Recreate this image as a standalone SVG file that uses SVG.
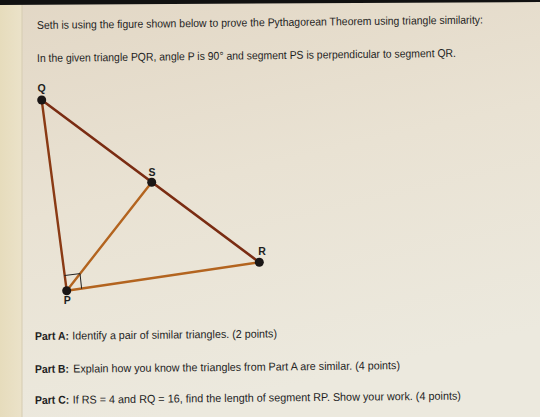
<svg xmlns="http://www.w3.org/2000/svg" width="540" height="417" viewBox="0 0 540 417">
<defs>
<linearGradient id="bg" x1="0" y1="0" x2="0.3" y2="1">
<stop offset="0" stop-color="#e2d7c5"/>
<stop offset="0.5" stop-color="#e9e2d3"/>
<stop offset="1" stop-color="#ece9de"/>
</linearGradient>
<linearGradient id="strip" x1="0" y1="0" x2="1" y2="0">
<stop offset="0" stop-color="#e6dcbc"/>
<stop offset="1" stop-color="#ebe2c9"/>
</linearGradient>
<style>
.t{font-family:"Liberation Sans",Arial,sans-serif;font-size:11.3px;fill:#1e1e1e}
.b{font-weight:bold}
.lbl{font-family:"Liberation Sans",Arial,sans-serif;font-size:10.5px;font-weight:bold;fill:#1e1e1e;text-anchor:middle}
.dot{fill:#1a1616}
</style>
</defs>
<rect x="0" y="0" width="540" height="417" fill="url(#bg)"/>
<rect x="0" y="0" width="22" height="417" fill="url(#strip)"/>
<rect x="21.5" y="0" width="1" height="417" fill="#d6cbb2"/>
<polygon points="0,0 540,0 540,2 0,5" fill="#111"/>
<g id="text">
<text class="t" x="37" y="29" textLength="446" lengthAdjust="spacingAndGlyphs" transform="rotate(-0.7 37 29)">Seth is using the figure shown below to prove the Pythagorean Theorem using triangle similarity:</text>
<text class="t" x="37" y="62" textLength="419" lengthAdjust="spacingAndGlyphs" transform="rotate(-0.7 37 62)">In the given triangle PQR, angle P is 90° and segment PS is perpendicular to segment QR.</text>
<g transform="rotate(-0.6 35 340)">
<text class="t b" x="35" y="340" textLength="34" lengthAdjust="spacingAndGlyphs">Part A:</text>
<text class="t" x="72.3" y="340" textLength="204.7" lengthAdjust="spacingAndGlyphs">Identify a pair of similar triangles. (2 points)</text>
</g>
<g transform="rotate(-0.6 35 373)">
<text class="t b" x="35" y="373" textLength="34" lengthAdjust="spacingAndGlyphs">Part B:</text>
<text class="t" x="73.3" y="373" textLength="326.7" lengthAdjust="spacingAndGlyphs">Explain how you know the triangles from Part A are similar. (4 points)</text>
</g>
<g transform="rotate(-0.6 35 404)">
<text class="t b" x="35" y="404" textLength="34.3" lengthAdjust="spacingAndGlyphs">Part C:</text>
<text class="t" x="72.7" y="404" textLength="388.3" lengthAdjust="spacingAndGlyphs">If RS = 4 and RQ = 16, find the length of segment RP. Show your work. (4 points)</text>
</g>
</g>
<g id="connectors" fill="none" stroke-linecap="round">
<line x1="41.7" y1="100" x2="259.3" y2="262.3" stroke="#7a2c12" stroke-width="2.6"/>
<line x1="41.7" y1="100" x2="66.7" y2="290.7" stroke="#8a3a14" stroke-width="2.4"/>
<line x1="66.7" y1="290.7" x2="151.7" y2="182.3" stroke="#b3641f" stroke-width="2.4"/>
<line x1="66.7" y1="290.7" x2="259.3" y2="262.3" stroke="#b3641f" stroke-width="2.4"/>
<polyline points="64.8,275.5 80,273.6 81.6,288.4" stroke="#222" stroke-width="1"/>
</g>
<g id="node-Q"><circle class="dot" cx="41.7" cy="100" r="4.5"/><text class="lbl" x="41.7" y="92">Q</text></g>
<g id="node-S"><circle class="dot" cx="151.7" cy="182.3" r="4.5"/><text class="lbl" x="152" y="176">S</text></g>
<g id="node-R"><circle class="dot" cx="259.3" cy="262.3" r="4.5"/><text class="lbl" x="262" y="255">R</text></g>
<g id="node-P"><circle class="dot" cx="66.7" cy="290.7" r="4.5" fill="#2a1414"/><text class="lbl" x="67.3" y="303.5">P</text></g>
</svg>
